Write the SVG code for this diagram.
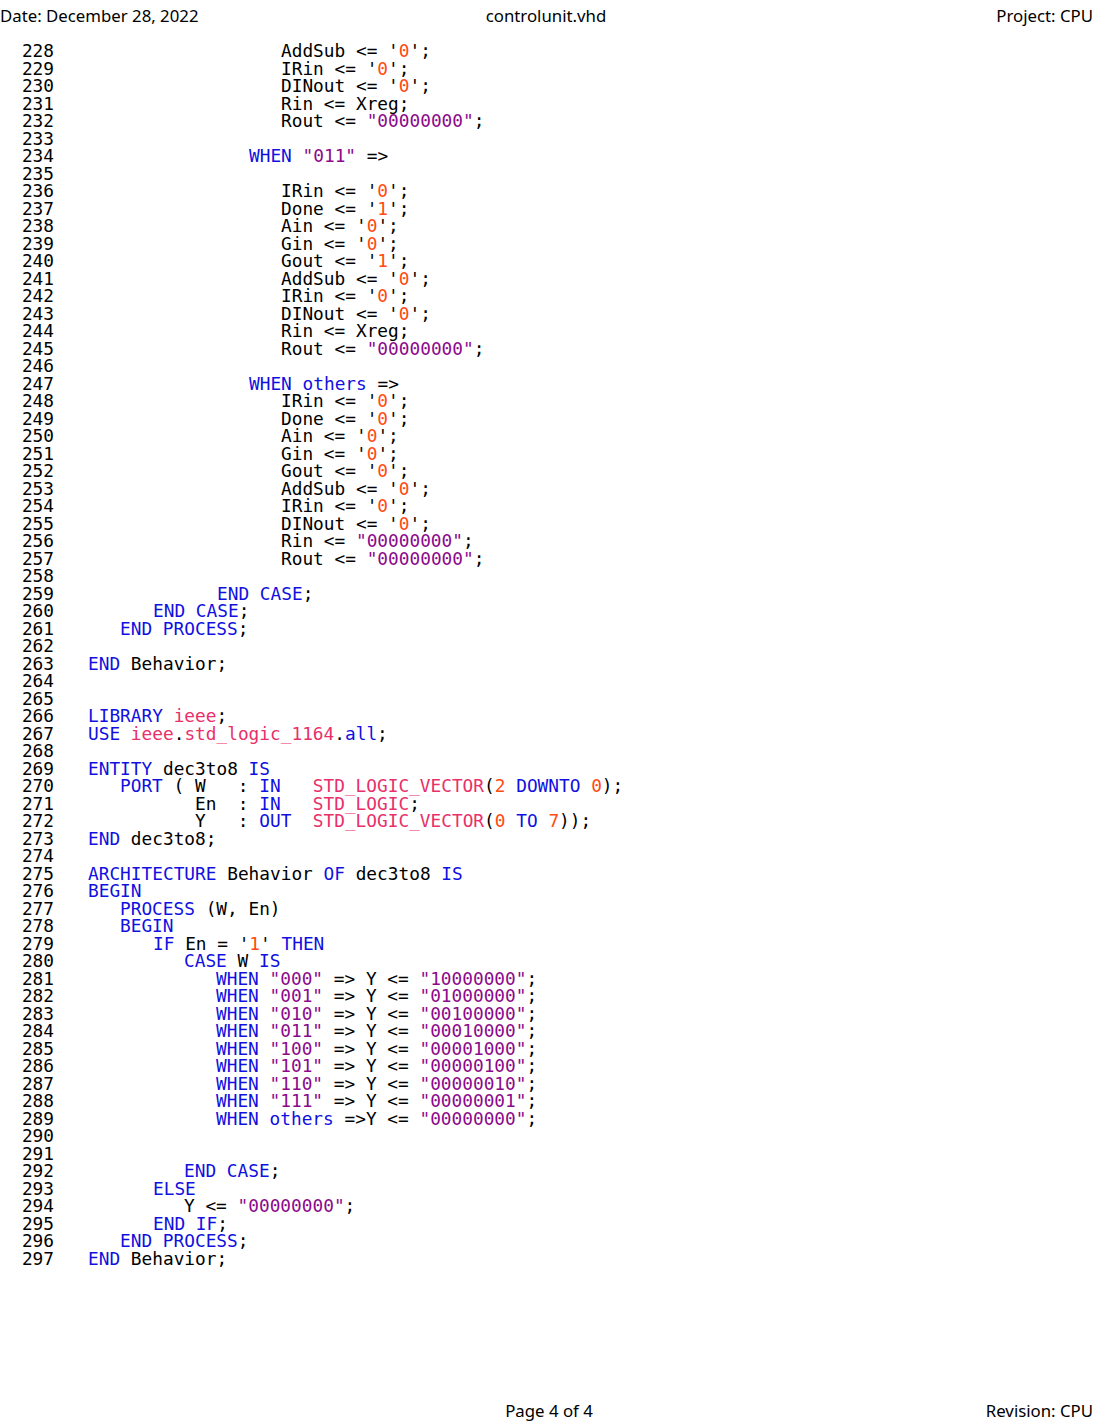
<svg xmlns="http://www.w3.org/2000/svg" width="1098" height="1422" viewBox="0 0 1098 1422" xml:space="preserve">
<style>
.c{font-family:"DejaVu Sans Mono","Liberation Mono",monospace;font-size:17.8px;fill:#000;white-space:pre}
.ln{font-family:"DejaVu Sans Mono","Liberation Mono",monospace;font-size:17.8px;fill:#000;text-anchor:end}
.h{font-family:"Noto Sans","Liberation Sans",sans-serif;font-size:16.8px;fill:#000}
.k{fill:#1010E0}.s{fill:#8B0A8B}.n{fill:#FF4A10}.t{fill:#E8306A}
</style>
<rect width="1098" height="1422" fill="#fff"/>
<g id="header">
<text class="h" x="0" y="22">Date: December 28, 2022</text>
<text class="h" x="546" y="22" text-anchor="middle">controlunit.vhd</text>
<text class="h" x="1093" y="22" text-anchor="end">Project: CPU</text>
</g>
<g id="linenumbers">
<text class="ln" x="54" y="57">228</text><text class="ln" x="54" y="74.5">229</text><text class="ln" x="54" y="92">230</text><text class="ln" x="54" y="109.5">231</text><text class="ln" x="54" y="127">232</text><text class="ln" x="54" y="144.5">233</text><text class="ln" x="54" y="162">234</text><text class="ln" x="54" y="179.5">235</text><text class="ln" x="54" y="197">236</text><text class="ln" x="54" y="214.5">237</text><text class="ln" x="54" y="232">238</text><text class="ln" x="54" y="249.5">239</text><text class="ln" x="54" y="267">240</text><text class="ln" x="54" y="284.5">241</text><text class="ln" x="54" y="302">242</text><text class="ln" x="54" y="319.5">243</text><text class="ln" x="54" y="337">244</text><text class="ln" x="54" y="354.5">245</text><text class="ln" x="54" y="372">246</text><text class="ln" x="54" y="389.5">247</text><text class="ln" x="54" y="407">248</text><text class="ln" x="54" y="424.5">249</text><text class="ln" x="54" y="442">250</text><text class="ln" x="54" y="459.5">251</text><text class="ln" x="54" y="477">252</text><text class="ln" x="54" y="494.5">253</text><text class="ln" x="54" y="512">254</text><text class="ln" x="54" y="529.5">255</text><text class="ln" x="54" y="547">256</text><text class="ln" x="54" y="564.5">257</text><text class="ln" x="54" y="582">258</text><text class="ln" x="54" y="599.5">259</text><text class="ln" x="54" y="617">260</text><text class="ln" x="54" y="634.5">261</text><text class="ln" x="54" y="652">262</text><text class="ln" x="54" y="669.5">263</text><text class="ln" x="54" y="687">264</text><text class="ln" x="54" y="704.5">265</text><text class="ln" x="54" y="722">266</text><text class="ln" x="54" y="739.5">267</text><text class="ln" x="54" y="757">268</text><text class="ln" x="54" y="774.5">269</text><text class="ln" x="54" y="792">270</text><text class="ln" x="54" y="809.5">271</text><text class="ln" x="54" y="827">272</text><text class="ln" x="54" y="844.5">273</text><text class="ln" x="54" y="862">274</text><text class="ln" x="54" y="879.5">275</text><text class="ln" x="54" y="897">276</text><text class="ln" x="54" y="914.5">277</text><text class="ln" x="54" y="932">278</text><text class="ln" x="54" y="949.5">279</text><text class="ln" x="54" y="967">280</text><text class="ln" x="54" y="984.5">281</text><text class="ln" x="54" y="1002">282</text><text class="ln" x="54" y="1019.5">283</text><text class="ln" x="54" y="1037">284</text><text class="ln" x="54" y="1054.5">285</text><text class="ln" x="54" y="1072">286</text><text class="ln" x="54" y="1089.5">287</text><text class="ln" x="54" y="1107">288</text><text class="ln" x="54" y="1124.5">289</text><text class="ln" x="54" y="1142">290</text><text class="ln" x="54" y="1159.5">291</text><text class="ln" x="54" y="1177">292</text><text class="ln" x="54" y="1194.5">293</text><text class="ln" x="54" y="1212">294</text><text class="ln" x="54" y="1229.5">295</text><text class="ln" x="54" y="1247">296</text><text class="ln" x="54" y="1264.5">297</text>
</g>
<g id="code">
<text class="c" x="281" y="57">AddSub &lt;= '<tspan class="n">0</tspan>';</text>
<text class="c" x="281" y="74.5">IRin &lt;= '<tspan class="n">0</tspan>';</text>
<text class="c" x="281" y="92">DINout &lt;= '<tspan class="n">0</tspan>';</text>
<text class="c" x="281" y="109.5">Rin &lt;= Xreg;</text>
<text class="c" x="281" y="127">Rout &lt;= <tspan class="s">"00000000"</tspan>;</text>
<text class="c" x="249" y="162"><tspan class="k">WHEN</tspan> <tspan class="s">"011"</tspan> =&gt;</text>
<text class="c" x="281" y="197">IRin &lt;= '<tspan class="n">0</tspan>';</text>
<text class="c" x="281" y="214.5">Done &lt;= '<tspan class="n">1</tspan>';</text>
<text class="c" x="281" y="232">Ain &lt;= '<tspan class="n">0</tspan>';</text>
<text class="c" x="281" y="249.5">Gin &lt;= '<tspan class="n">0</tspan>';</text>
<text class="c" x="281" y="267">Gout &lt;= '<tspan class="n">1</tspan>';</text>
<text class="c" x="281" y="284.5">AddSub &lt;= '<tspan class="n">0</tspan>';</text>
<text class="c" x="281" y="302">IRin &lt;= '<tspan class="n">0</tspan>';</text>
<text class="c" x="281" y="319.5">DINout &lt;= '<tspan class="n">0</tspan>';</text>
<text class="c" x="281" y="337">Rin &lt;= Xreg;</text>
<text class="c" x="281" y="354.5">Rout &lt;= <tspan class="s">"00000000"</tspan>;</text>
<text class="c" x="249" y="389.5"><tspan class="k">WHEN others</tspan> =&gt;</text>
<text class="c" x="281" y="407">IRin &lt;= '<tspan class="n">0</tspan>';</text>
<text class="c" x="281" y="424.5">Done &lt;= '<tspan class="n">0</tspan>';</text>
<text class="c" x="281" y="442">Ain &lt;= '<tspan class="n">0</tspan>';</text>
<text class="c" x="281" y="459.5">Gin &lt;= '<tspan class="n">0</tspan>';</text>
<text class="c" x="281" y="477">Gout &lt;= '<tspan class="n">0</tspan>';</text>
<text class="c" x="281" y="494.5">AddSub &lt;= '<tspan class="n">0</tspan>';</text>
<text class="c" x="281" y="512">IRin &lt;= '<tspan class="n">0</tspan>';</text>
<text class="c" x="281" y="529.5">DINout &lt;= '<tspan class="n">0</tspan>';</text>
<text class="c" x="281" y="547">Rin &lt;= <tspan class="s">"00000000"</tspan>;</text>
<text class="c" x="281" y="564.5">Rout &lt;= <tspan class="s">"00000000"</tspan>;</text>
<text class="c" x="217" y="599.5"><tspan class="k">END CASE</tspan>;</text>
<text class="c" x="153" y="617"><tspan class="k">END CASE</tspan>;</text>
<text class="c" x="120" y="634.5"><tspan class="k">END PROCESS</tspan>;</text>
<text class="c" x="88" y="669.5"><tspan class="k">END</tspan> Behavior;</text>
<text class="c" x="88" y="722"><tspan class="k">LIBRARY</tspan> <tspan class="t">ieee</tspan>;</text>
<text class="c" x="88" y="739.5"><tspan class="k">USE</tspan> <tspan class="t">ieee</tspan>.<tspan class="t">std_logic_1164</tspan>.<tspan class="k">all</tspan>;</text>
<text class="c" x="88" y="774.5"><tspan class="k">ENTITY</tspan> dec3to8 <tspan class="k">IS</tspan></text>
<text class="c" x="120" y="792"><tspan class="k">PORT</tspan> ( W   : <tspan class="k">IN</tspan>   <tspan class="t">STD_LOGIC_VECTOR</tspan>(<tspan class="n">2</tspan> <tspan class="k">DOWNTO</tspan> <tspan class="n">0</tspan>);</text>
<text class="c" x="195" y="809.5">En  : <tspan class="k">IN</tspan>   <tspan class="t">STD_LOGIC</tspan>;</text>
<text class="c" x="195" y="827">Y   : <tspan class="k">OUT</tspan>  <tspan class="t">STD_LOGIC_VECTOR</tspan>(<tspan class="n">0</tspan> <tspan class="k">TO</tspan> <tspan class="n">7</tspan>));</text>
<text class="c" x="88" y="844.5"><tspan class="k">END</tspan> dec3to8;</text>
<text class="c" x="88" y="879.5"><tspan class="k">ARCHITECTURE</tspan> Behavior <tspan class="k">OF</tspan> dec3to8 <tspan class="k">IS</tspan></text>
<text class="c" x="88" y="897"><tspan class="k">BEGIN</tspan></text>
<text class="c" x="120" y="914.5"><tspan class="k">PROCESS</tspan> (W, En)</text>
<text class="c" x="120" y="932"><tspan class="k">BEGIN</tspan></text>
<text class="c" x="153" y="949.5"><tspan class="k">IF</tspan> En = '<tspan class="n">1</tspan>' <tspan class="k">THEN</tspan></text>
<text class="c" x="184" y="967"><tspan class="k">CASE</tspan> W <tspan class="k">IS</tspan></text>
<text class="c" x="216" y="984.5"><tspan class="k">WHEN</tspan> <tspan class="s">"000"</tspan> =&gt; Y &lt;= <tspan class="s">"10000000"</tspan>;</text>
<text class="c" x="216" y="1002"><tspan class="k">WHEN</tspan> <tspan class="s">"001"</tspan> =&gt; Y &lt;= <tspan class="s">"01000000"</tspan>;</text>
<text class="c" x="216" y="1019.5"><tspan class="k">WHEN</tspan> <tspan class="s">"010"</tspan> =&gt; Y &lt;= <tspan class="s">"00100000"</tspan>;</text>
<text class="c" x="216" y="1037"><tspan class="k">WHEN</tspan> <tspan class="s">"011"</tspan> =&gt; Y &lt;= <tspan class="s">"00010000"</tspan>;</text>
<text class="c" x="216" y="1054.5"><tspan class="k">WHEN</tspan> <tspan class="s">"100"</tspan> =&gt; Y &lt;= <tspan class="s">"00001000"</tspan>;</text>
<text class="c" x="216" y="1072"><tspan class="k">WHEN</tspan> <tspan class="s">"101"</tspan> =&gt; Y &lt;= <tspan class="s">"00000100"</tspan>;</text>
<text class="c" x="216" y="1089.5"><tspan class="k">WHEN</tspan> <tspan class="s">"110"</tspan> =&gt; Y &lt;= <tspan class="s">"00000010"</tspan>;</text>
<text class="c" x="216" y="1107"><tspan class="k">WHEN</tspan> <tspan class="s">"111"</tspan> =&gt; Y &lt;= <tspan class="s">"00000001"</tspan>;</text>
<text class="c" x="216" y="1124.5"><tspan class="k">WHEN others</tspan> =&gt;Y &lt;= <tspan class="s">"00000000"</tspan>;</text>
<text class="c" x="184" y="1177"><tspan class="k">END CASE</tspan>;</text>
<text class="c" x="153" y="1194.5"><tspan class="k">ELSE</tspan></text>
<text class="c" x="184" y="1212">Y &lt;= <tspan class="s">"00000000"</tspan>;</text>
<text class="c" x="153" y="1229.5"><tspan class="k">END IF</tspan>;</text>
<text class="c" x="120" y="1247"><tspan class="k">END PROCESS</tspan>;</text>
<text class="c" x="88" y="1264.5"><tspan class="k">END</tspan> Behavior;</text>
</g>
<g id="footer">
<text class="h" x="549" y="1417" text-anchor="middle">Page 4 of 4</text>
<text class="h" x="1093" y="1417" text-anchor="end">Revision: CPU</text>
</g>
</svg>
